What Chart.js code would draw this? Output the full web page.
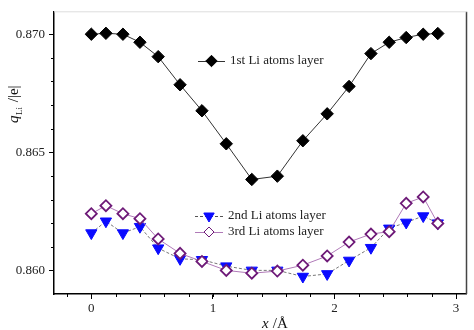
<!DOCTYPE html>
<html>
<head>
<meta charset="utf-8">
<script src="https://cdn.jsdelivr.net/npm/chart.js@4"></script>
<style>
  html, body { margin: 0; padding: 0; background: #fff; }
  #wrap { width: 474px; height: 330px; position: relative; }
</style>
</head>
<body>
<div id="wrap"><canvas id="chart"></canvas></div>
<script>
// --- Data ---
const xPos = [0, 0.12, 0.26, 0.40, 0.55, 0.73, 0.91, 1.11, 1.32, 1.53, 1.74, 1.94, 2.12, 2.30, 2.45, 2.59, 2.73, 2.85];
const layer1 = [0.8700, 0.87004, 0.8700, 0.86966, 0.86905, 0.86786, 0.86676, 0.86536, 0.86385, 0.86399, 0.86549, 0.86663, 0.86779, 0.86918, 0.86966, 0.86986, 0.8700, 0.87003];
const layer2 = [0.86158, 0.86208, 0.86158, 0.86185, 0.86094, 0.86049, 0.86045, 0.86018, 0.86000, 0.86000, 0.85974, 0.85985, 0.86042, 0.86096, 0.86178, 0.86203, 0.86230, 0.86200];
const layer3 = [0.86240, 0.86274, 0.86240, 0.86219, 0.86133, 0.86072, 0.86038, 0.86000, 0.85988, 0.85997, 0.86022, 0.86061, 0.86120, 0.86154, 0.86164, 0.86284, 0.86311, 0.86199];
const seriesNames = ['1st Li atoms layer', '2nd Li atoms layer', '3rd Li atoms layer'];
const xTicks = [0, 1, 2, 3];
const yTicks = [0.860, 0.865, 0.870];

const SERIF = '"Liberation Serif", "Times New Roman", serif';

function toPoints(ys) {
    return ys.map((y, i) => ({ x: xPos[i], y: y }));
}

// minor ticks, legends, axis titles and the frame
const decorPlugin = {
    id: 'decor',
    afterDraw(chart) {
        const ctx = chart.ctx;
        const { left, right, top, bottom } = chart.chartArea;
        const xs = chart.scales.x, ys = chart.scales.y;
        ctx.save();

        // frame: right and top edges
        ctx.strokeStyle = '#444';
        ctx.lineWidth = 1.5;
        ctx.beginPath();
        ctx.moveTo(right, top);
        ctx.lineTo(right, bottom);
        ctx.stroke();
        ctx.strokeStyle = '#ddd';
        ctx.lineWidth = 1;
        ctx.beginPath();
        ctx.moveTo(left, top);
        ctx.lineTo(right, top);
        ctx.stroke();

        // minor ticks
        ctx.strokeStyle = '#000';
        ctx.lineWidth = 1;
        ctx.beginPath();
        for (let i = -1; i <= 15; i++) {
            const px = Math.round(xs.getPixelForValue(i * 0.2)) + 0.5;
            if (px < left || px > right) continue;
            ctx.moveTo(px, bottom);
            ctx.lineTo(px, bottom + 3);
        }
        for (let i = 0; i <= 12; i++) {
            const py = Math.round(ys.getPixelForValue(0.859 + i * 0.001)) + 0.5;
            if (py < top || py > bottom) continue;
            ctx.moveTo(left, py);
            ctx.lineTo(left - 3, py);
        }
        ctx.stroke();

        // legends
        const entries = [
            { ds: 0, x: 198, y: 61, len: 27 },
            { ds: 1, x: 195, y: 216, len: 28 },
            { ds: 2, x: 195, y: 232, len: 28 }
        ];
        entries.forEach(e => {
            const d = chart.data.datasets[e.ds];
            ctx.strokeStyle = d.borderColor;
            ctx.lineWidth = 1;
            ctx.setLineDash(d.borderDash || []);
            ctx.beginPath();
            ctx.moveTo(e.x, e.y + 0.5);
            ctx.lineTo(e.x + e.len, e.y + 0.5);
            ctx.stroke();
            ctx.setLineDash([]);
            ctx.fillStyle = d.pointBackgroundColor;
            ctx.strokeStyle = d.pointBorderColor;
            Chart.helpers.drawPoint(ctx, {
                pointStyle: d.pointStyle,
                rotation: d.pointRotation || 0,
                radius: d.pointRadius - 0.5,
                borderWidth: d.pointBorderWidth
            }, e.x + e.len / 2, e.y);
            ctx.fillStyle = '#222';
            ctx.font = '13px ' + SERIF;
            ctx.textAlign = 'left';
            ctx.textBaseline = 'middle';
            ctx.fillText(seriesNames[e.ds], e.x + e.len + 5, e.y);
        });

        // x axis title
        ctx.fillStyle = '#111';
        ctx.textBaseline = 'alphabetic';
        ctx.font = 'italic 15px ' + SERIF;
        ctx.fillText('x', 262, 328);
        ctx.font = '15px ' + SERIF;
        ctx.fillText(' /Å', 269, 328);

        // y axis title (rotated)
        ctx.translate(18, 102);
        ctx.rotate(-Math.PI / 2);
        ctx.textAlign = 'left';
        ctx.font = 'italic 15px ' + SERIF;
        ctx.fillText('q', -21, 0);
        ctx.font = '9px ' + SERIF;
        ctx.fillText('Li', -13, 4);
        ctx.font = '15px ' + SERIF;
        ctx.fillText(' /|e|', -4, 0);

        ctx.restore();
    }
};

new Chart(document.getElementById('chart'), {
    type: 'scatter',
    data: {
        datasets: [
            {
                label: seriesNames[0],
                data: toPoints(layer1),
                order: 2,
                showLine: true,
                borderColor: '#333',
                borderWidth: 1,
                pointStyle: 'rectRot',
                pointRadius: 6.2,
                pointBackgroundColor: '#000',
                pointBorderColor: '#000',
                pointBorderWidth: 1
            },
            {
                label: seriesNames[1],
                data: toPoints(layer2),
                order: 1,
                showLine: true,
                borderColor: '#555',
                borderWidth: 0.8,
                borderDash: [3, 2],
                pointStyle: 'triangle',
                pointRotation: 180,
                pointRadius: 6.5,
                pointBackgroundColor: '#0a0aff',
                pointBorderColor: '#0a0aff',
                pointBorderWidth: 1
            },
            {
                label: seriesNames[2],
                data: toPoints(layer3),
                order: 0,
                showLine: true,
                borderColor: '#b07ab8',
                borderWidth: 1,
                pointStyle: 'rectRot',
                pointRadius: 5.5,
                pointBackgroundColor: '#fff',
                pointBorderColor: '#6e1a78',
                pointBorderWidth: 1.8
            }
        ]
    },
    options: {
        responsive: true,
        maintainAspectRatio: false,
        animation: false,
        layout: { padding: { left: 0, right: 4, top: 2, bottom: 0 } },
        plugins: { legend: { display: false }, tooltip: { enabled: false } },
        scales: {
            x: {
                type: 'linear',
                min: -0.307,
                max: 3.086,
                afterBuildTicks: s => { s.ticks = xTicks.map(v => ({ value: v })); },
                afterFit: s => { s.height = 36; },
                border: { color: '#000', width: 1.5 },
                grid: { drawOnChartArea: false, tickLength: 5, color: '#000' },
                ticks: {
                    color: '#222',
                    padding: 2,
                    maxRotation: 0,
                    font: { family: SERIF, size: 13 },
                    callback: v => String(v)
                }
            },
            y: {
                min: 0.859,
                max: 0.87095,
                afterBuildTicks: s => { s.ticks = yTicks.map(v => ({ value: v })); },
                afterFit: s => { s.width = 54; },
                border: { color: '#000', width: 1.5 },
                grid: { drawOnChartArea: false, tickLength: 5, color: '#000' },
                ticks: {
                    color: '#222',
                    padding: 4,
                    font: { family: SERIF, size: 13 },
                    callback: v => v.toFixed(3)
                }
            }
        }
    },
    plugins: [decorPlugin]
});
</script>
</body>
</html>
